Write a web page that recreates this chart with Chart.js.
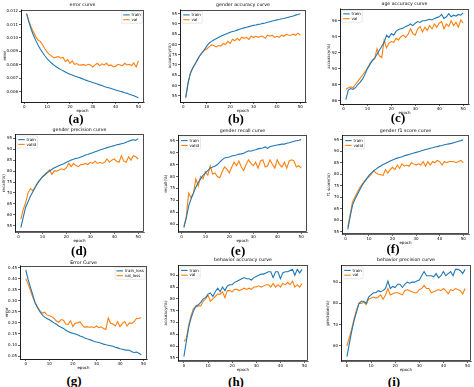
<!DOCTYPE html>
<html><head><meta charset="utf-8">
<script src="https://cdn.jsdelivr.net/npm/chart.js@4.4.1/dist/chart.umd.min.js"></script>
<style>
html,body{margin:0;padding:0;background:#fff;}
body{width:474px;height:387px;position:relative;overflow:hidden;}
canvas{position:absolute;}
.lab{position:absolute;font-family:"Liberation Serif","DejaVu Serif",serif;font-size:13px;font-weight:bold;transform:translate(-50%,-50%);white-space:nowrap;color:#000;}
</style></head><body>
<script>
// ---------- categories / ticks ----------
const EPOCHS_1_50 = [1,2,3,4,5,6,7,8,9,10,11,12,13,14,15,16,17,18,19,20,21,22,23,24,25,26,27,28,29,30,31,32,33,34,35,36,37,38,39,40,41,42,43,44,45,46,47,48,49,50];
const EPOCHS_0_49 = [0,1,2,3,4,5,6,7,8,9,10,11,12,13,14,15,16,17,18,19,20,21,22,23,24,25,26,27,28,29,30,31,32,33,34,35,36,37,38,39,40,41,42,43,44,45,46,47,48,49];
const X_TICKS = [0,10,20,30,40,50];
const Y_TICKS_A = [0.006,0.007,0.008,0.009,0.010,0.011,0.012];
const Y_TICKS_B = [55,60,65,70,75,80,85,90,95];
const Y_TICKS_C = [86,88,90,92,94,96];
const Y_TICKS_D = [55,60,65,70,75,80,85,90,95];
const Y_TICKS_E = [60,65,70,75,80,85,90,95];
const Y_TICKS_F = [55,60,65,70,75,80,85,90,95];
const Y_TICKS_G = [0.05,0.10,0.15,0.20,0.25,0.30,0.35,0.40,0.45];
const Y_TICKS_H = [55,60,65,70,75,80,85,90];
const Y_TICKS_I = [60,70,80,90];

// ---------- series ----------
const trainA = [0.01180,0.01120,0.01065,0.01020,0.00982,0.00948,0.00918,0.00892,0.00868,0.00846,0.00828,0.00812,0.00798,0.00786,0.00775,0.00765,0.00756,0.00747,0.00739,0.00731,0.00725,0.00718,0.00712,0.00706,0.00700,0.00694,0.00687,0.00681,0.00675,0.00669,0.00664,0.00659,0.00652,0.00647,0.00640,0.00634,0.00630,0.00625,0.00620,0.00614,0.00609,0.00604,0.00600,0.00594,0.00589,0.00583,0.00577,0.00571,0.00564,0.00556];
const valA = [0.01180,0.01125,0.01080,0.01045,0.01010,0.00985,0.00975,0.00950,0.00920,0.00895,0.00878,0.00865,0.00852,0.00858,0.00862,0.00850,0.00855,0.00825,0.00840,0.00812,0.00830,0.00805,0.00810,0.00798,0.00800,0.00802,0.00796,0.00805,0.00800,0.00785,0.00800,0.00812,0.00795,0.00808,0.00800,0.00812,0.00795,0.00800,0.00785,0.00790,0.00805,0.00800,0.00795,0.00812,0.00800,0.00805,0.00795,0.00815,0.00785,0.00830];
const trainB = [54,61,66,68.5,70.5,72.5,74.5,76,77.5,79.2,80.6,81.5,82.2,82.8,83.4,84,84.5,85,85.5,86,86.3,86.6,87,87.4,87.8,88.1,88.4,88.7,89,89.3,89.5,89.8,90,90.3,90.5,90.8,91.1,91.4,91.7,92,92.2,92.5,92.7,93,93.3,93.6,93.9,94.3,94.6,95];
const valB = [54.5,61.5,66,68.5,70.5,72.5,74.5,76,77.2,77.8,78.8,79.8,79.5,78.8,79.5,79.2,80.5,80,81.5,80.5,82.5,81.8,83,82,83.5,83,83.5,82.5,84,83.5,84,83.5,84,84,83,84.5,84,84.5,83.5,84,83.5,84.5,84,85,84.5,84.5,85,84.5,85.5,84.5];
const trainC = [86.1,87.3,87.5,87.4,87.6,88.0,88.3,88.7,89.3,90.0,90.5,91.0,91.3,91.8,92.3,92.8,93.3,94.2,93.9,94.4,94.2,94.7,94.9,95.0,95.1,95.3,95.4,95.6,95.4,95.7,95.9,95.8,96.0,96.0,96.1,96.2,96.1,96.3,96.4,96.5,96.8,96.3,96.5,96.9,96.5,96.7,96.6,96.8,96.7,97.0];
const valC = [87.4,87.6,87.7,87.6,88.0,88.4,88.8,89.2,89.6,90.0,90.6,91.0,91.2,92.5,91.6,91.4,93.6,92.6,93.2,93.4,93.3,93.8,93.6,94.0,94.2,93.9,94.3,95.0,94.4,94.2,95.0,95.3,94.6,95.2,94.8,95.4,95.0,95.6,95.2,95.7,95.9,95.0,95.6,95.3,96.0,95.4,95.8,95.2,96.1,95.7];
const trainD = [54.2,59,63.5,66,68.5,70.5,72.5,74.5,76,77.2,78.2,79.2,80,80.8,81.5,82,82.5,83,83.3,84,84.5,85,85.4,85.8,86,86.4,86.8,87.3,87.6,88,88.4,88.8,89.2,89.6,90,90.3,90.7,91,91.3,91.6,92,92.2,92.5,92.7,93.2,93.6,94,94.3,94,94.8];
const valD = [58,62.5,65.5,70,72,71,72.8,74.5,76,77.5,78.5,79.5,80.5,78.5,80.2,80,80.5,81,80.5,81.5,83.5,82,83.5,82.5,82,83,83,83.5,83,84,83.5,84.5,83.5,84,83.5,84,85.5,84,85,85.5,84.5,84,87,84.5,84,86.5,85,87,86.5,85.5];
const trainE = [58.5,62.5,67.5,70.5,73,75.5,77.5,79,80.5,81.5,82.5,83.5,84,84.3,85,86,87,87.8,88,88.2,88.6,88.8,89,89.4,89.5,89.8,90.3,90.8,90.6,91,91.2,91.6,91.8,92,92.4,91.8,92.6,92.8,93,93.2,93.4,93.6,93.6,94,94.2,94.5,94.8,95,95.2,95.5];
const valE = [59,63,73,71,73,79,76,80,79,82,80.5,84.5,81,81.5,80,79.5,82,84,83,81.5,84,86,84.5,86.5,84,82.5,85,87,85.5,84.5,86,83.5,86.5,87,84,84.5,87,85,83.5,87,85,84,86,83.5,86.5,87,86.5,84,84.5,83.5];
const trainF = [56,61.5,66.5,69,71,73,75,76.5,78,79.5,80.5,81.5,82.2,83,83.6,84.2,84.7,85.2,85.7,86.2,86.6,87,87.3,87.6,88,88.3,88.6,88.9,89.2,89.5,89.8,90.1,90.4,90.7,91,91.3,91.5,91.8,92,92.3,92.5,92.8,93,93.2,93.4,93.7,94,94.3,94.6,95];
const valF = [57,62.5,68,70,72,74,75.5,77,78,79,80,81.5,80.5,80,79.8,79.5,82,80.5,82,83,82,84,82.5,84.5,83.5,84,83.5,85,84.5,84,84.5,84,85.5,83.5,85.5,84,85.5,85,86,85.5,84,85.5,85,85.5,85.5,85.5,85,85.5,86,85];
const trainG = [0.44,0.395,0.36,0.325,0.29,0.268,0.25,0.236,0.226,0.22,0.214,0.207,0.2,0.194,0.186,0.18,0.175,0.167,0.161,0.156,0.153,0.15,0.146,0.141,0.137,0.132,0.128,0.125,0.121,0.116,0.114,0.111,0.108,0.104,0.101,0.099,0.097,0.094,0.09,0.087,0.083,0.081,0.078,0.077,0.076,0.07,0.066,0.068,0.063,0.056];
const valG = [0.40,0.375,0.345,0.315,0.29,0.272,0.255,0.244,0.248,0.236,0.232,0.228,0.22,0.208,0.203,0.215,0.212,0.195,0.193,0.21,0.183,0.198,0.2,0.205,0.19,0.18,0.183,0.18,0.182,0.178,0.186,0.178,0.182,0.175,0.17,0.222,0.198,0.195,0.186,0.205,0.183,0.198,0.206,0.186,0.2,0.198,0.206,0.22,0.22,0.224];
const trainH = [55.5,62,68,72,75,77,77.5,78.5,80,80.5,82,82.5,81,83,84.5,83,85,83.5,85.5,86,86,87,87.5,88,88.5,89,88.5,88.5,88,89,89.5,90,90.5,90.5,91,91.5,91.5,89,91.5,91.5,88.5,91,91.5,91.5,92,92.5,90,92.5,91,92.5];
const valH = [62,63,69,73,76,76.5,77,77,79,80,81.5,79,80,81,82,82,83,80.5,83.5,83.5,83,84,84,83.5,84,84.5,84,84.5,84,85,85,85.5,85,85.5,86,86,85,86.5,85,86,85,86.5,86,87,86,87.5,85,86,85,86.5];
const trainI = [55,61,67,72,76,80,81,81,80,83,84,85,85,86,85.5,86,87,90.5,87,88,87.5,89,89,87.5,89,90,89.5,90,90,90.5,91,93,95,93,93,93,92.5,94,92,93,95,93,94,95,93,96,96,95.5,94,96];
const valI = [60,64,68,73,77,80,80,80.5,79.5,82,82.5,83,82.5,83,84,82,84,87,84,84.5,85,85,84.5,84,86,86.5,86,85.5,85,85,86.5,87,88.5,87,87,85,85.5,86,86.5,86,87,86,84.5,86.5,86,87,86.5,86,84.5,87];

// ---------- rendering ----------
const COLORS = ['#1f77b4','#ff7f0e'];
const FONT = "'DejaVu Sans', sans-serif";
const TICK_FS = 4, TITLE_FS = 4.7;

const framePlugin = {
  id:'frame',
  afterDraw(chart){
    const a = chart.chartArea, ctx = chart.ctx;
    ctx.save(); ctx.strokeStyle='#000'; ctx.lineWidth=0.7;
    ctx.strokeRect(Math.round(a.left)+0.5, Math.round(a.top)+0.5, Math.round(a.right-a.left)-1, Math.round(a.bottom-a.top)-1);
    ctx.restore();
  }
};
const legendPlugin = {
  id:'innerLegend',
  afterDatasetsDraw(chart, args, opts){
    const ctx = chart.ctx, a = chart.chartArea;
    ctx.save();
    ctx.font = TICK_FS + 'px ' + FONT;
    const items = chart.data.datasets;
    const tw = Math.max(...items.map(d => ctx.measureText(d.label).width));
    const hl = 6.5, gap = 1.8, padx = 1.4, pady = 1.2, rowH = 4.8;
    const w = padx*2 + hl + gap + tw, h = pady*2 + rowH*items.length;
    const x = opts.pos === 'right' ? a.right - 1.8 - w : a.left + 1.8;
    const y = a.top + 1.8;
    ctx.beginPath();
    if (ctx.roundRect) ctx.roundRect(x, y, w, h, 1); else ctx.rect(x, y, w, h);
    ctx.fillStyle = 'rgba(255,255,255,0.85)'; ctx.fill();
    ctx.strokeStyle = '#d0d0d0'; ctx.lineWidth = 0.5; ctx.stroke();
    items.forEach((d, i) => {
      const cy = y + pady + rowH*(i + 0.5);
      ctx.beginPath(); ctx.strokeStyle = d.borderColor; ctx.lineWidth = 1.1;
      ctx.moveTo(x + padx, cy); ctx.lineTo(x + padx + hl, cy); ctx.stroke();
      ctx.fillStyle = '#000'; ctx.textBaseline = 'middle'; ctx.textAlign = 'left';
      ctx.fillText(d.label, x + padx + hl + gap, cy + 0.2);
    });
    ctx.restore();
  }
};

function makeChart(p){
  const padTop = 1, lh = 5, xh = 12;
  const titleH = lh + p.gap;
  const ct = p.T - titleH - padTop;
  const cw = p.R + 2 - p.cl;
  const ch = p.B + xh - ct;
  const cv = document.createElement('canvas');
  cv.width = cw; cv.height = ch;
  cv.style.left = p.cl + 'px'; cv.style.top = ct + 'px';
  cv.style.width = cw + 'px'; cv.style.height = ch + 'px';
  document.body.appendChild(cv);
  const all = p.series[0].concat(p.series[1]);
  const mn = Math.min(...all), mx = Math.max(...all), yp = (mx - mn)*0.05;
  const xs = p.epochs, x0 = xs[0], x1 = xs[xs.length-1], xp = (x1 - x0)*0.05;
  const tickFont = {family:FONT, size:TICK_FS, lineHeight:'4.5px'};
  const gridCfg = {display:true, drawOnChartArea:false, drawTicks:true, tickLength:2, color:'#000', lineWidth:0.6};
  new Chart(cv, {
    type:'line',
    data:{datasets:p.series.map((s,i)=>({
      label:p.labels[i], data:s.map((v,j)=>({x:xs[j], y:v})),
      borderColor:COLORS[i], backgroundColor:COLORS[i], borderWidth:1.1,
      pointRadius:0, tension:0, fill:false
    }))},
    options:{
      responsive:false, animation:false, devicePixelRatio:1,
      layout:{padding:{top:padTop, left:0, right:2, bottom:0}, autoPadding:false},
      plugins:{
        legend:{display:false}, tooltip:{enabled:false},
        title:{display:true, text:p.title, fullSize:false, color:'#000',
          font:{family:FONT, size:TITLE_FS, lineHeight:lh+'px', weight:'normal'},
          padding:{top:0, bottom:p.gap}},
        innerLegend:{pos:p.legendPos}
      },
      scales:{
        x:{type:'linear', min:x0 - xp, max:x1 + xp,
          afterFit:s=>{ s.height = xh; },
          afterBuildTicks:s=>{ s.ticks = X_TICKS.map(v=>({value:v})); },
          ticks:{font:tickFont, color:'#000', padding:0.5, maxRotation:0, autoSkip:false, callback:v=>String(v)},
          grid:gridCfg, border:{display:true, color:'#000', width:0.6},
          title:{display:true, text:'epoch', color:'#000', font:tickFont, padding:{top:0, bottom:0.8}}
        },
        y:{type:'linear', min:mn - yp, max:mx + yp,
          afterFit:s=>{ s.width = p.L - p.cl; },
          afterBuildTicks:s=>{ s.ticks = p.yTicks.map(v=>({value:v})); },
          ticks:{font:tickFont, color:'#000', padding:1, autoSkip:false, callback:v=>Number(v).toFixed(p.dec)},
          grid:gridCfg, border:{display:true, color:'#000', width:0.6},
          title:{display:true, text:p.ylab, color:'#000', font:tickFont, padding:{top:p.ylabX - p.cl - 2.25, bottom:0}}
        }
      }
    },
    plugins:[framePlugin, legendPlugin]
  });
}

const panels = [
  {title:'error curve', ylab:'error', series:[trainA,valA], labels:['train','val'], epochs:EPOCHS_1_50, yTicks:Y_TICKS_A, dec:3, legendPos:'right', L:21, T:9, R:144, B:102, cl:0, ylabX:5, gap:2.5},
  {title:'gender accuracy curve', ylab:'accuracy(%)', series:[trainB,valB], labels:['train','val'], epochs:EPOCHS_1_50, yTicks:Y_TICKS_B, dec:0, legendPos:'left', L:180, T:9, R:306, B:102, cl:158, ylabX:170, gap:2.5},
  {title:'age accuracy curve', ylab:'accuracy(%)', series:[trainC,valC], labels:['train','val'], epochs:EPOCHS_1_50, yTicks:Y_TICKS_C, dec:0, legendPos:'left', L:340, T:8, R:469, B:104, cl:316, ylabX:329, gap:2.5},
  {title:'gender precision curve', ylab:'recall(%)', series:[trainD,valD], labels:['train','valid'], epochs:EPOCHS_1_50, yTicks:Y_TICKS_D, dec:0, legendPos:'left', L:15, T:134, R:144, B:232, cl:0, ylabX:4, gap:2.2},
  {title:'gender recall curve', ylab:'recall(%)', series:[trainE,valE], labels:['train','valid'], epochs:EPOCHS_1_50, yTicks:Y_TICKS_E, dec:0, legendPos:'left', L:178, T:135, R:307, B:232, cl:158, ylabX:166, gap:2.2},
  {title:'gender f1 score curve', ylab:'f1 score(%)', series:[trainF,valF], labels:['train','valid'], epochs:EPOCHS_1_50, yTicks:Y_TICKS_F, dec:0, legendPos:'left', L:342, T:135, R:469, B:234, cl:316, ylabX:329, gap:2.2},
  {title:'Error Curve', ylab:'error', series:[trainG,valG], labels:['train_loss','val_loss'], epochs:EPOCHS_0_49, yTicks:Y_TICKS_G, dec:2, legendPos:'right', L:20, T:265, R:147, B:359, cl:0, ylabX:7, gap:0.5},
  {title:'behavior accuracy curve', ylab:'accuracy(%)', series:[trainH,valH], labels:['train','val'], epochs:EPOCHS_0_49, yTicks:Y_TICKS_H, dec:0, legendPos:'left', L:178, T:265, R:308, B:361, cl:158, ylabX:166, gap:3},
  {title:'behavior precision curve', ylab:'precision(%)', series:[trainI,valI], labels:['train','val'], epochs:EPOCHS_0_49, yTicks:Y_TICKS_I, dec:0, legendPos:'left', L:341, T:265, R:471, B:361, cl:316, ylabX:328, gap:3}
];
panels.forEach(makeChart);

const PANEL_LABELS = ['(a)','(b)','(c)','(d)','(e)','(f)','(g)','(h)','(i)'];
const LABEL_POS = [[76,119],[236,119],[398,118],[79,251],[238,251],[393,249],[74,381],[236,382],[394,382]];
PANEL_LABELS.forEach((t,i)=>{
  const d = document.createElement('div');
  d.className = 'lab'; d.textContent = t;
  d.style.left = LABEL_POS[i][0] + 'px'; d.style.top = LABEL_POS[i][1] + 'px';
  document.body.appendChild(d);
});
</script>
</body></html>
